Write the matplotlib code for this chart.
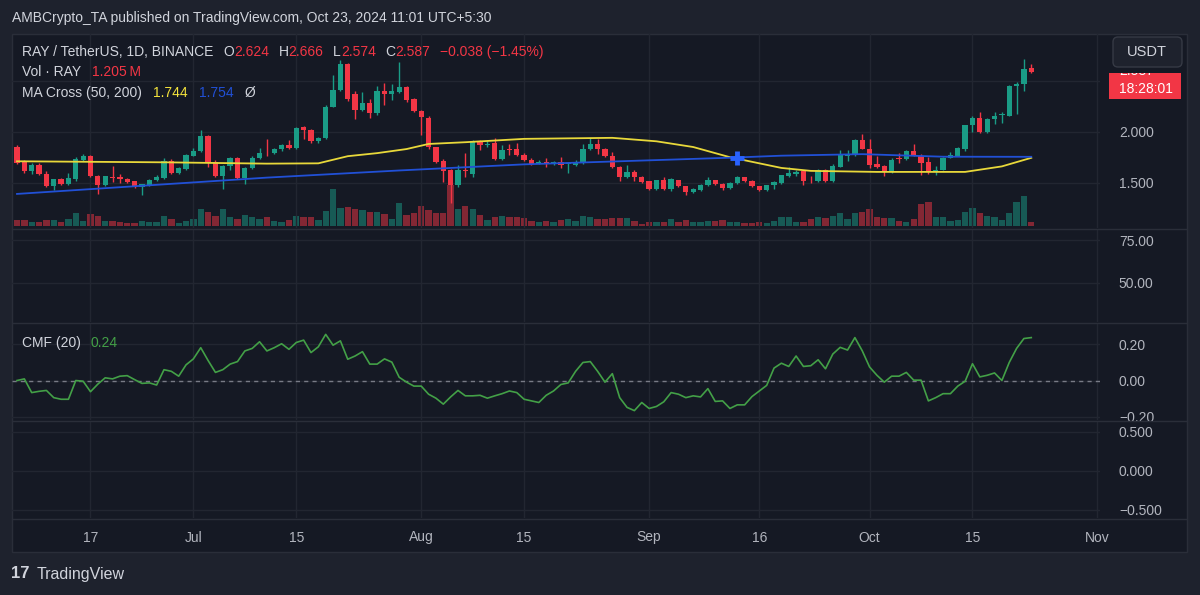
import matplotlib
matplotlib.use('Agg')
import matplotlib.pyplot as plt
from matplotlib.patches import Rectangle, FancyBboxPatch
from matplotlib.lines import Line2D
from matplotlib.transforms import Bbox, TransformedBbox
import numpy as np
import pandas as pd

# daily candles RAY/USDT, first candle 2024-06-07
start_date = '2024-06-07'

opens = [1.848, 1.71, 1.616, 1.677, 1.59, 1.468, 1.539, 1.487, 1.539, 1.726,
         1.765, 1.57, 1.477, 1.555, 1.555, 1.54, 1.516, 1.455, 1.48, 1.525,
         1.545, 1.713, 1.60, 1.63, 1.765, 1.81, 1.958, 1.706, 1.568, 1.661,
         1.745, 1.55, 1.64, 1.74, 1.795, 1.794, 1.826, 1.87, 1.84, 2.048,
         2.016, 1.91, 1.94, 2.245, 2.405, 2.668, 2.365, 2.216, 2.277, 2.18,
         2.403, 2.365, 2.39, 2.435, 2.316, 2.203, 2.139, 1.848, 1.71, 1.62,
         1.477, 1.625, 1.584, 1.913, 1.865, 1.887, 1.729, 1.83, 1.826, 1.774,
         1.726, 1.687, 1.70, 1.68, 1.70, 1.687, 1.67, 1.69, 1.83, 1.88,
         1.835, 1.761, 1.655, 1.558, 1.603, 1.558, 1.513, 1.435, 1.526, 1.435,
         1.526, 1.468, 1.41, 1.43, 1.477, 1.526, 1.49, 1.45, 1.494, 1.555,
         1.52, 1.468, 1.43, 1.474, 1.494, 1.568, 1.59, 1.616, 1.53, 1.513,
         1.623, 1.516, 1.655, 1.76, 1.77, 1.92, 1.835, 1.68, 1.66, 1.607,
         1.74, 1.73, 1.81, 1.765, 1.70, 1.61, 1.626, 1.745, 1.765, 1.835,
         2.065, 2.139, 1.997, 2.12, 2.168, 2.155, 2.45, 2.465, 2.624]
highs = [1.87, 1.72, 1.69, 1.69, 1.61, 1.54, 1.55, 1.60, 1.75, 1.78,
         1.77, 1.58, 1.57, 1.66, 1.59, 1.55, 1.52, 1.49, 1.54, 1.58,
         1.74, 1.73, 1.65, 1.78, 1.84, 2.02, 1.97, 1.72, 1.67, 1.75,
         1.75, 1.65, 1.76, 1.84, 1.93, 1.84, 1.88, 1.92, 2.05, 2.06,
         2.03, 1.95, 2.26, 2.56, 2.70, 2.67, 2.40, 2.39, 2.32, 2.45,
         2.48, 2.47, 2.68, 2.45, 2.33, 2.21, 2.15, 1.85, 1.73, 1.63,
         1.67, 1.79, 1.92, 1.92, 1.92, 1.94, 1.87, 1.88, 1.89, 1.79,
         1.74, 1.72, 1.74, 1.71, 1.75, 1.70, 1.72, 1.88, 1.94, 1.93,
         1.84, 1.80, 1.66, 1.67, 1.62, 1.57, 1.52, 1.53, 1.56, 1.55,
         1.53, 1.47, 1.45, 1.49, 1.56, 1.53, 1.50, 1.51, 1.57, 1.56,
         1.53, 1.47, 1.48, 1.52, 1.58, 1.65, 1.62, 1.62, 1.57, 1.63,
         1.63, 1.68, 1.82, 1.82, 1.93, 1.98, 1.93, 1.76, 1.67, 1.74,
         1.79, 1.82, 1.88, 1.78, 1.75, 1.66, 1.75, 1.80, 1.85, 2.07,
         2.15, 2.19, 2.13, 2.19, 2.19, 2.46, 2.49, 2.71, 2.666]
lows = [1.68, 1.60, 1.59, 1.58, 1.46, 1.43, 1.48, 1.48, 1.52, 1.71,
        1.56, 1.39, 1.47, 1.51, 1.50, 1.50, 1.45, 1.375, 1.47, 1.52,
        1.54, 1.59, 1.59, 1.62, 1.76, 1.80, 1.65, 1.56, 1.435, 1.62,
        1.54, 1.49, 1.63, 1.73, 1.76, 1.78, 1.81, 1.83, 1.83, 1.93,
        1.89, 1.89, 1.93, 2.24, 2.40, 2.30, 2.12, 2.20, 2.13, 2.16,
        2.26, 2.31, 2.38, 2.29, 2.19, 1.97, 1.83, 1.69, 1.51, 1.30,
        1.46, 1.56, 1.56, 1.82, 1.85, 1.72, 1.72, 1.77, 1.76, 1.71,
        1.67, 1.68, 1.65, 1.67, 1.64, 1.60, 1.66, 1.68, 1.82, 1.78,
        1.75, 1.64, 1.52, 1.55, 1.52, 1.50, 1.43, 1.43, 1.43, 1.42,
        1.46, 1.38, 1.40, 1.42, 1.47, 1.48, 1.43, 1.44, 1.49, 1.51,
        1.46, 1.42, 1.42, 1.44, 1.49, 1.56, 1.57, 1.48, 1.50, 1.51,
        1.51, 1.51, 1.65, 1.71, 1.76, 1.83, 1.64, 1.64, 1.57, 1.60,
        1.69, 1.72, 1.76, 1.58, 1.59, 1.58, 1.62, 1.74, 1.76, 1.81,
        2.00, 1.99, 1.99, 2.08, 2.09, 2.15, 2.17, 2.40, 2.574]
closes = [1.694, 1.616, 1.677, 1.584, 1.468, 1.539, 1.487, 1.548, 1.735, 1.765,
          1.565, 1.477, 1.565, 1.545, 1.535, 1.51, 1.455, 1.487, 1.53, 1.558,
          1.713, 1.60, 1.645, 1.768, 1.81, 1.958, 1.706, 1.568, 1.661, 1.745,
          1.545, 1.64, 1.745, 1.795, 1.79, 1.826, 1.87, 1.84, 2.04, 2.016,
          1.913, 1.94, 2.245, 2.41, 2.668, 2.316, 2.216, 2.277, 2.18, 2.403,
          2.365, 2.397, 2.435, 2.313, 2.203, 2.145, 1.848, 1.70, 1.616, 1.477,
          1.62, 1.61, 1.913, 1.874, 1.88, 1.729, 1.823, 1.825, 1.774, 1.72,
          1.687, 1.70, 1.687, 1.70, 1.674, 1.69, 1.706, 1.835, 1.88, 1.83,
          1.758, 1.65, 1.56, 1.603, 1.558, 1.506, 1.435, 1.526, 1.435, 1.532,
          1.465, 1.413, 1.435, 1.477, 1.526, 1.484, 1.45, 1.50, 1.558, 1.52,
          1.465, 1.43, 1.474, 1.503, 1.574, 1.60, 1.605, 1.516, 1.525, 1.623,
          1.516, 1.661, 1.768, 1.78, 1.92, 1.835, 1.671, 1.65, 1.607, 1.726,
          1.73, 1.81, 1.77, 1.693, 1.603, 1.626, 1.745, 1.768, 1.845, 2.068,
          2.139, 1.997, 2.123, 2.152, 2.172, 2.452, 2.47, 2.61, 2.587]
# volume in millions RAY
volumes = [2.0, 2.0, 1.2, 1.4, 2.0, 2.0, 1.4, 2.3, 4.2, 1.8,
           4.0, 3.3, 1.7, 1.7, 1.4, 0.9, 1.1, 1.8, 1.3, 1.3,
           3.4, 2.3, 1.1, 1.7, 2.4, 5.5, 4.6, 3.4, 5.7, 2.9,
           2.2, 3.5, 3.1, 2.2, 3.0, 1.8, 1.2, 2.0, 3.3, 3.1,
           2.8, 2.0, 5.0, 12.1, 5.8, 6.4, 5.7, 5.3, 4.5, 4.6,
           4.0, 2.3, 7.7, 3.6, 4.2, 6.6, 5.3, 4.2, 4.2, 13.5,
           5.5, 6.6, 5.7, 3.6, 2.0, 3.1, 3.4, 2.8, 3.1, 2.7,
           1.8, 1.4, 1.8, 1.4, 2.0, 2.3, 1.5, 3.4, 3.1, 2.3,
           2.3, 2.5, 2.5, 2.5, 1.8, 0.8, 1.2, 1.4, 1.2, 2.2,
           1.2, 2.0, 1.2, 1.2, 1.8, 1.8, 2.0, 1.4, 1.4, 1.0,
           1.0, 1.4, 1.0, 1.5, 2.9, 2.9, 1.2, 1.4, 2.3, 3.1,
           2.5, 3.4, 4.2, 2.3, 4.2, 4.5, 5.5, 2.9, 2.5, 2.5,
           1.8, 1.2, 2.3, 7.2, 8.0, 3.1, 2.8, 1.8, 2.0, 4.6,
           5.8, 4.2, 3.4, 2.9, 2.0, 4.2, 8.0, 9.9, 1.205]
cmf = [0.0, 0.009, -0.067, -0.06, -0.055, -0.095, -0.104, -0.104, 0.0, -0.004,
       -0.062, -0.02, 0.015, 0.009, 0.024, 0.027, 0.005, -0.016, -0.013, -0.025,
       0.06, 0.051, 0.024, 0.087, 0.12, 0.182, 0.111, 0.045, 0.06, 0.091,
       0.105, 0.164, 0.178, 0.215, 0.164, 0.182, 0.204, 0.173, 0.211, 0.224,
       0.155, 0.187, 0.256, 0.196, 0.22, 0.118, 0.136, 0.16, 0.091, 0.091,
       0.12, 0.102, 0.018, -0.009, -0.031, -0.031, -0.076, -0.098, -0.131, -0.091,
       -0.055, -0.085, -0.085, -0.082, -0.098, -0.085, -0.073, -0.058, -0.067, -0.104,
       -0.113, -0.122, -0.082, -0.058, -0.022, -0.013, 0.051, 0.1, 0.105, 0.051,
       -0.009, 0.038, -0.095, -0.149, -0.167, -0.122, -0.155, -0.144, -0.118, -0.067,
       -0.076, -0.095, -0.085, -0.091, -0.045, -0.116, -0.113, -0.155, -0.135, -0.135,
       -0.089, -0.058, -0.027, 0.069, 0.096, 0.078, 0.136, 0.078, 0.082, 0.115,
       0.065, 0.147, 0.184, 0.169, 0.238, 0.165, 0.075, 0.029, -0.009, 0.024,
       0.024, 0.045, 0.002, 0.002, -0.113, -0.095, -0.073, -0.073, -0.031, -0.004,
       0.093, 0.02, 0.029, 0.042, 0.0, 0.1, 0.178, 0.233, 0.238]

# MA cross lines, read at a few candles (index from first candle)
ma50_at = [0, 20, 34, 41, 45, 49, 53, 56, 61, 69, 81, 87, 92, 97, 104, 108, 117, 129, 134, 138]
ma50_val = [1.71, 1.70, 1.687, 1.69, 1.76, 1.79, 1.83, 1.88, 1.897, 1.93,
            1.94, 1.906, 1.85, 1.75, 1.645, 1.616, 1.606, 1.606, 1.66, 1.744]
ma200_at = [0, 34, 52, 69, 97, 104, 115, 126, 138]
ma200_val = [1.39, 1.55, 1.62, 1.68, 1.745, 1.765, 1.78, 1.755, 1.754]
cross_at, cross_val = 98, 1.745

tick_dates = ['2024-06-17', '2024-07-01', '2024-07-15', '2024-08-01', '2024-08-15',
              '2024-09-01', '2024-09-16', '2024-10-01', '2024-10-15', '2024-11-01']
tick_labels = ['17', 'Jul', '15', 'Aug', '15', 'Sep', '16', 'Oct', '15', 'Nov']

# colours
OUTER = '#1e222d'
INNER = '#151924'
GRID = '#222631'
SEP = '#2a2e39'
TXT = '#d1d4dc'
AXTXT = '#b2b5be'
UP = '#1a9c86'
DOWN = '#f23645'
YEL = '#e8d83a'
BLUE = '#2150d6'
CMFC = '#43a047'

plt.rcParams['font.family'] = ['Liberation Sans', 'DejaVu Sans']
plt.rcParams['font.size'] = 10

W, H = 1200, 595


def box(x0, y0, x1, y1):
    return [x0 / W, 1 - y1 / H, (x1 - x0) / W, (y1 - y0) / H]


def inch(x, y):
    return x / 100, (H - y) / 100


fig = plt.figure(figsize=(12, 5.95), dpi=100, facecolor=OUTER)
fig.patches.append(Rectangle(inch(12, 552), 11.75, 5.18, transform=fig.dpi_scale_trans,
                             facecolor=INNER, edgecolor=SEP, lw=1, zorder=-10))

n = len(opens)
x = np.arange(n)
o, h, l, c = map(np.array, (opens, highs, lows, closes))
up = c >= o
col = np.where(up, UP, DOWN)
start = pd.Timestamp(start_date)
tick_pos = [(pd.Timestamp(d) - start).days for d in tick_dates]
xmin, xmax = -0.68, 147.35


def setup(ax, ylim, yticks, ylabels):
    ax.set_xlim(xmin, xmax)
    ax.set_ylim(*ylim)
    ax.patch.set_visible(False)
    for s in ax.spines.values():
        s.set_visible(False)
    ax.yaxis.tick_right()
    ax.set_yticks(yticks, ylabels)
    ax.set_xticks(tick_pos)
    ax.tick_params(axis='y', length=0, pad=13.6, colors=AXTXT, labelsize=10)
    ax.tick_params(axis='x', length=0, labelbottom=False)
    ax.grid(True, color=GRID, lw=1)
    ax.set_axisbelow(True)


# main panel: price + volume
ax = fig.add_axes(box(12, 34, 1100, 228))
axv = ax.twinx()
axv.set_ylim(-0.66, 63.2)
axv.set_xlim(xmin, xmax)
axv.axis('off')
axv.bar(x, volumes, width=0.86, color=col, alpha=0.5, lw=0)
ax.set_zorder(axv.get_zorder() + 1)
setup(ax, (1.056, 2.958), [1.5, 2.0, 2.5], ['1.500', '2.000', ''])

ax.vlines(x, l, h, color=col, lw=1, zorder=2)
body = np.maximum(np.abs(c - o), 0.004)
ax.bar(x, body, bottom=np.minimum(o, c), width=0.72, color=col, lw=0, zorder=3)
ax.plot(ma50_at, ma50_val, color=YEL, lw=1.3, zorder=4)
ax.plot(ma200_at, ma200_val, color=BLUE, lw=1.3, zorder=4)
ax.plot([cross_at], [cross_val], marker='+', ms=10, mew=3.5, color='#2962ff', zorder=5)

# empty panel
ax2 = fig.add_axes(box(12, 229, 1100, 322))
setup(ax2, (27.3, 81.4), [50, 75], ['50.00', '75.00'])

# CMF panel
ax3 = fig.add_axes(box(12, 323, 1100, 420))
setup(ax3, (-0.219, 0.319), [-0.2, 0.0, 0.2], ['\u22120.20', '0.00', '0.20'])
ax3.axhline(0, color='#787b86', lw=1, linestyle=(0, (3, 3)))
ax3.plot(x, cmf, color=CMFC, lw=1.2)

# bottom panel with dates
ax4 = fig.add_axes(box(12, 421, 1100, 518))
setup(ax4, (-0.603, 0.641), [-0.5, 0.0, 0.5], ['\u22120.500', '0.000', '0.500'])
ax4.set_xticks(tick_pos, tick_labels)
ax4.tick_params(axis='x', labelbottom=True, pad=9, colors=AXTXT, labelsize=10)

for yy in (228.5, 322.5, 420.5, 518.5):
    fig.add_artist(Line2D([12 / W, 1187 / W], [1 - yy / H] * 2, color=SEP, lw=1))


def chain(axis, x0, y0, parts):
    t = fig.text(*inch(x0, y0), parts[0][0], color=parts[0][1], transform=fig.dpi_scale_trans,
                 va='center', ha='left', fontsize=10)
    for s, cc, gap in parts[1:]:
        t = axis.annotate(s, xy=(1, 0.5), xycoords=t, xytext=(gap, 0), textcoords='offset points',
                          va='center', ha='left', color=cc, fontsize=10, annotation_clip=False)


fig.text(*inch(12, 18), 'AMBCrypto_TA published on TradingView.com, Oct 23, 2024 11:01 UTC+5:30',
         transform=fig.dpi_scale_trans, color=TXT, va='center', ha='left', fontsize=10)
chain(ax, 22, 52, [('RAY / TetherUS, 1D, BINANCE', TXT), ('O', TXT, 7), ('2.624', DOWN, 0),
                   ('H', TXT, 7), ('2.666', DOWN, 0), ('L', TXT, 7), ('2.574', DOWN, 0),
                   ('C', TXT, 7), ('2.587', DOWN, 0), ('\u22120.038 (\u22121.45%)', DOWN, 7)])
chain(ax, 22, 72, [('Vol \u00b7 RAY', TXT), ('1.205\u2009M', DOWN, 8)])
chain(ax, 22, 93, [('MA Cross (50, 200)', TXT), ('1.744', '#f5e43c', 8), ('1.754', BLUE, 8),
                   ('\u00d8', TXT, 8)])
chain(ax3, 22, 343, [('CMF (20)', TXT), ('0.24', CMFC, 7)])

# last price label and currency button
fig.patches.append(Rectangle(inch(1109, 99), 0.72, 0.26, transform=fig.dpi_scale_trans,
                             facecolor=DOWN, lw=0, zorder=5))
t = fig.text(*inch(1119, 71), '2.587', transform=fig.dpi_scale_trans, color='white',
             va='center', ha='left', fontsize=10, zorder=6)
t.set_clip_box(TransformedBbox(Bbox([[11.09, (H - 99) / 100], [11.81, (H - 73) / 100]]),
                               fig.dpi_scale_trans))
fig.text(*inch(1119, 89), '18:28:01', transform=fig.dpi_scale_trans, color='white',
         va='center', ha='left', fontsize=10, zorder=6)
fig.patches.append(FancyBboxPatch(inch(1113, 67), 0.69, 0.30, transform=fig.dpi_scale_trans,
                                  boxstyle='round,pad=0,rounding_size=0.05',
                                  facecolor=OUTER, edgecolor='#363a45', lw=1, zorder=5))
fig.text(*inch(1147, 52), 'USDT', transform=fig.dpi_scale_trans, color=TXT,
         va='center', ha='center', fontsize=10.5, zorder=6)

# TradingView footer
fig.text(*inch(11, 574), '17', transform=fig.dpi_scale_trans, color=TXT, fontweight='heavy',
         va='center', ha='left', fontsize=12)
fig.text(*inch(37, 575), 'TradingView', transform=fig.dpi_scale_trans, color=TXT,
         va='center', ha='left', fontsize=11.5)

fig.savefig('out.png', dpi=100, facecolor=OUTER)
